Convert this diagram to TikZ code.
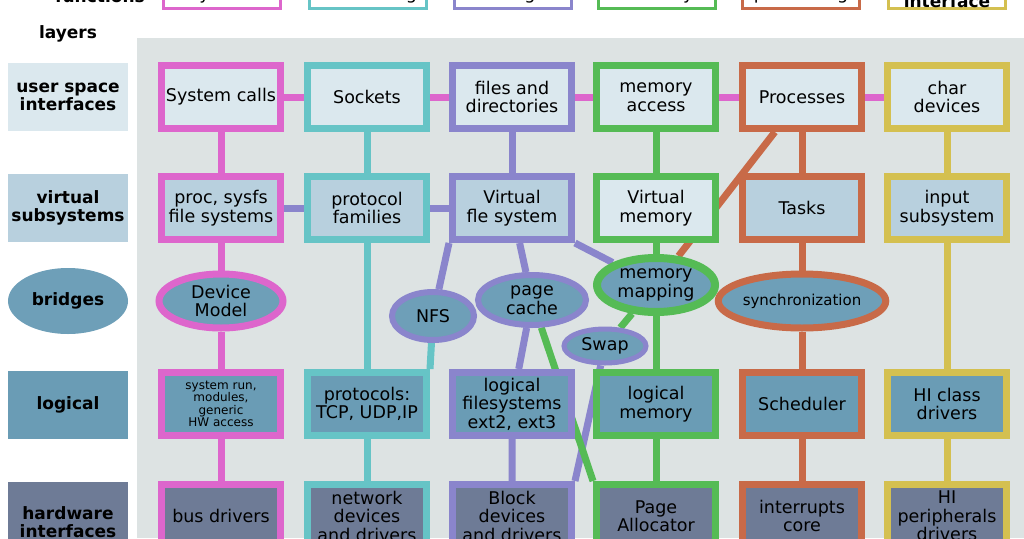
\documentclass[tikz,border=0pt]{standalone}
\usepackage{fontspec}
\setmainfont{DejaVu Sans}
\usetikzlibrary{shapes.geometric}
\pgfdeclarelayer{bg}\pgfdeclarelayer{bbg}
\pgfsetlayers{bbg,bg,main}
\definecolor{cpk}{HTML}{DD66CC}
\definecolor{ccy}{HTML}{66C4C6}
\definecolor{cpu}{HTML}{8A85CC}
\definecolor{cgr}{HTML}{55BB55}
\definecolor{cor}{HTML}{C86A48}
\definecolor{cye}{HTML}{D4C050}
\definecolor{fa}{HTML}{DBE8EE}
\definecolor{fb}{HTML}{B8D0DE}
\definecolor{fc}{HTML}{6A9CB5}
\definecolor{fd}{HTML}{6E7B96}
\definecolor{fe}{HTML}{6E9FB8}
\definecolor{gbg}{HTML}{DDE3E3}
\begin{document}
\begin{tikzpicture}[x=1pt,y=-1pt,
 every node/.style={font=\fontsize{17.5}{18.5}\selectfont,align=center,inner sep=0pt},
 box/.style={draw=#1,line width=7pt,minimum width=119pt,minimum height=63pt},
 fbox/.style={draw=#1,line width=3pt,minimum width=117pt,minimum height=40pt,fill=white,anchor=south},
 ftx/.style={anchor=base},
 ell/.style={ellipse,draw=#1,line width=7pt,fill=fe},
 lay/.style={font=\fontsize{17}{18}\selectfont\bfseries,minimum width=120pt,minimum height=68pt},
 cn/.style={line width=7pt,draw=#1}]
\useasboundingbox (0,0) rectangle (1024,538);
\begin{pgfonlayer}{bbg}
\fill[gbg] (137,38) rectangle (1024,538);
\end{pgfonlayer}
% function boxes (cut off)
\node[fbox=cpk] (f1) at (222,10) {};
\node[fbox=ccy] (f2) at (368,10) {};
\node[fbox=cpu] (f3) at (513,10) {};
\node[fbox=cgr] (f4) at (657,10) {};
\node[fbox=cor] (f5) at (801,10) {};
\node[fbox=cye] (f6) at (947,10) {};
\node[ftx] (t1) at (222,-1) {system};
\node[ftx] (t2) at (368,-1) {networking};
\node[ftx] (t3) at (513,-1) {storage};
\node[ftx] (t4) at (657,-1) {memory};
\node[ftx] (t5) at (801,-1) {processing};
\node[ftx,font=\fontsize{17}{18}\selectfont\bfseries] (t6) at (947,7) {interface};
\node[font=\fontsize{17}{18}\selectfont\bfseries,anchor=south] (lf) at (100,3) {functions};
\node[font=\fontsize{17}{18}\selectfont\bfseries] (ll) at (68,34) {layers};
% layer labels
\node[lay,fill=fa] (L1) at (68,97) {user space\\interfaces};
\node[lay,fill=fb] (L2) at (68,208) {virtual\\subsystems};
\node[lay,ellipse,fill=fe,minimum width=120pt,minimum height=66pt] (L3) at (68,301) {bridges};
\node[lay,fill=fc] (L4) at (68,405) {logical};
\node[lay,fill=fd,minimum height=80pt] (L5) at (68,522) {hardware\\interfaces};
% row 1
\node[box=cpk,fill=fa] (a1) at (221,97) {System calls};
\node[box=ccy,fill=fa] (a2) at (367,97) {Sockets};
\node[box=cpu,fill=fa] (a3) at (512,97) {files and\\directories};
\node[box=cgr,fill=fa] (a4) at (656,97) {memory\\access};
\node[box=cor,fill=fa] (a5) at (802,97) {Processes};
\node[box=cye,fill=fa] (a6) at (947,97) {char\\devices};
% row 2
\node[box=cpk,fill=fb] (b1) at (221,208) {proc, sysfs\\file systems};
\node[box=ccy,fill=fb] (b2) at (367,208) {protocol\\families};
\node[box=cpu,fill=fb] (b3) at (512,208) {Virtual\\fle system};
\node[box=cgr,fill=fa] (b4) at (656,208) {Virtual\\memory};
\node[box=cor,fill=fb] (b5) at (802,208) {Tasks};
\node[box=cye,fill=fb] (b6) at (947,208) {input\\subsystem};
% bridges
\node[ell=cpk,minimum width=124pt,minimum height=54pt] (d1) at (221,301) {Device\\Model};
\node[ell=cpu,line width=6pt,minimum width=82pt,minimum height=48pt] (nfs) at (433,316) {NFS};
\node[ell=cpu,line width=6pt,minimum width=108pt,minimum height=50pt] (pc) at (532,300) {page\\cache};
\node[ell=cgr,line width=8pt,minimum width=118pt,minimum height=54pt] (mm) at (656,285) {memory\\mapping};
\node[ell=cpu,line width=5pt,minimum width=82pt,minimum height=34pt] (sw) at (605,346) {Swap};
\node[ell=cor,minimum width=124pt,minimum height=54pt,font=\fontsize{15}{16}\selectfont] (sy) at (802,301) {synchronization};
% logical
\node[box=cpk,fill=fc,font=\fontsize{12}{12.5}\selectfont] (c1) at (221,404) {system run,\\modules,\\generic\\HW access};
\node[box=ccy,fill=fc] (c2) at (367,404) {protocols:\\TCP, UDP,IP};
\node[box=cpu,fill=fc] (c3) at (512,404) {logical\\filesystems\\ext2, ext3};
\node[box=cgr,fill=fc] (c4) at (656,404) {logical\\memory};
\node[box=cor,fill=fc] (c5) at (802,404) {Scheduler};
\node[box=cye,fill=fc] (c6) at (947,404) {HI class\\drivers};
% hardware
\node[box=cpk,fill=fd] (h1) at (221,516) {bus drivers};
\node[box=ccy,fill=fd] (h2) at (367,516) {network\\devices\\and drivers};
\node[box=cpu,fill=fd] (h3) at (512,516) {Block\\devices\\and drivers};
\node[box=cgr,fill=fd] (h4) at (656,516) {Page\\Allocator};
\node[box=cor,fill=fd] (h5) at (802,516) {interrupts\\core};
\node[box=cye,fill=fd] (h6) at (947,516) {HI\\peripherals\\drivers};
\begin{pgfonlayer}{bg}
\draw[cn=cpk] (a1)--(a2)--(a3)--(a4)--(a5)--(a6);
\draw[cn=cpu] (b1)--(b2)--(b3);
\draw[cn=cpk] (a1)--(b1)--(d1)--(c1)--(h1);
\draw[cn=ccy] (a2)--(b2)--(c2)--(h2);
\draw[cn=ccy] (nfs)--(c2.north east);
\draw[cn=cpu] (a3)--(b3);
\draw[cn=cpu] (b3.south west)--(nfs);
\draw[cn=cpu] (b3)--(pc);
\draw[cn=cpu] (pc)--(c3)--(h3);
\draw[cn=cpu] (b3.south east)--(mm);
\draw[cn=cpu] (sw)--(h3.north east);
\draw[cn=cgr] (a4)--(b4)--(mm)--(c4)--(h4);
\draw[cn=cgr] (pc)--(h4.north west);
\draw[cn=cgr] (mm)--(sw);
\draw[cn=cor] (a5)--(mm);
\draw[cn=cor] (a5)--(b5)--(sy)--(c5)--(h5);
\draw[cn=cye] (a6)--(b6)--(c6)--(h6);
\end{pgfonlayer}
\end{tikzpicture}
\end{document}
